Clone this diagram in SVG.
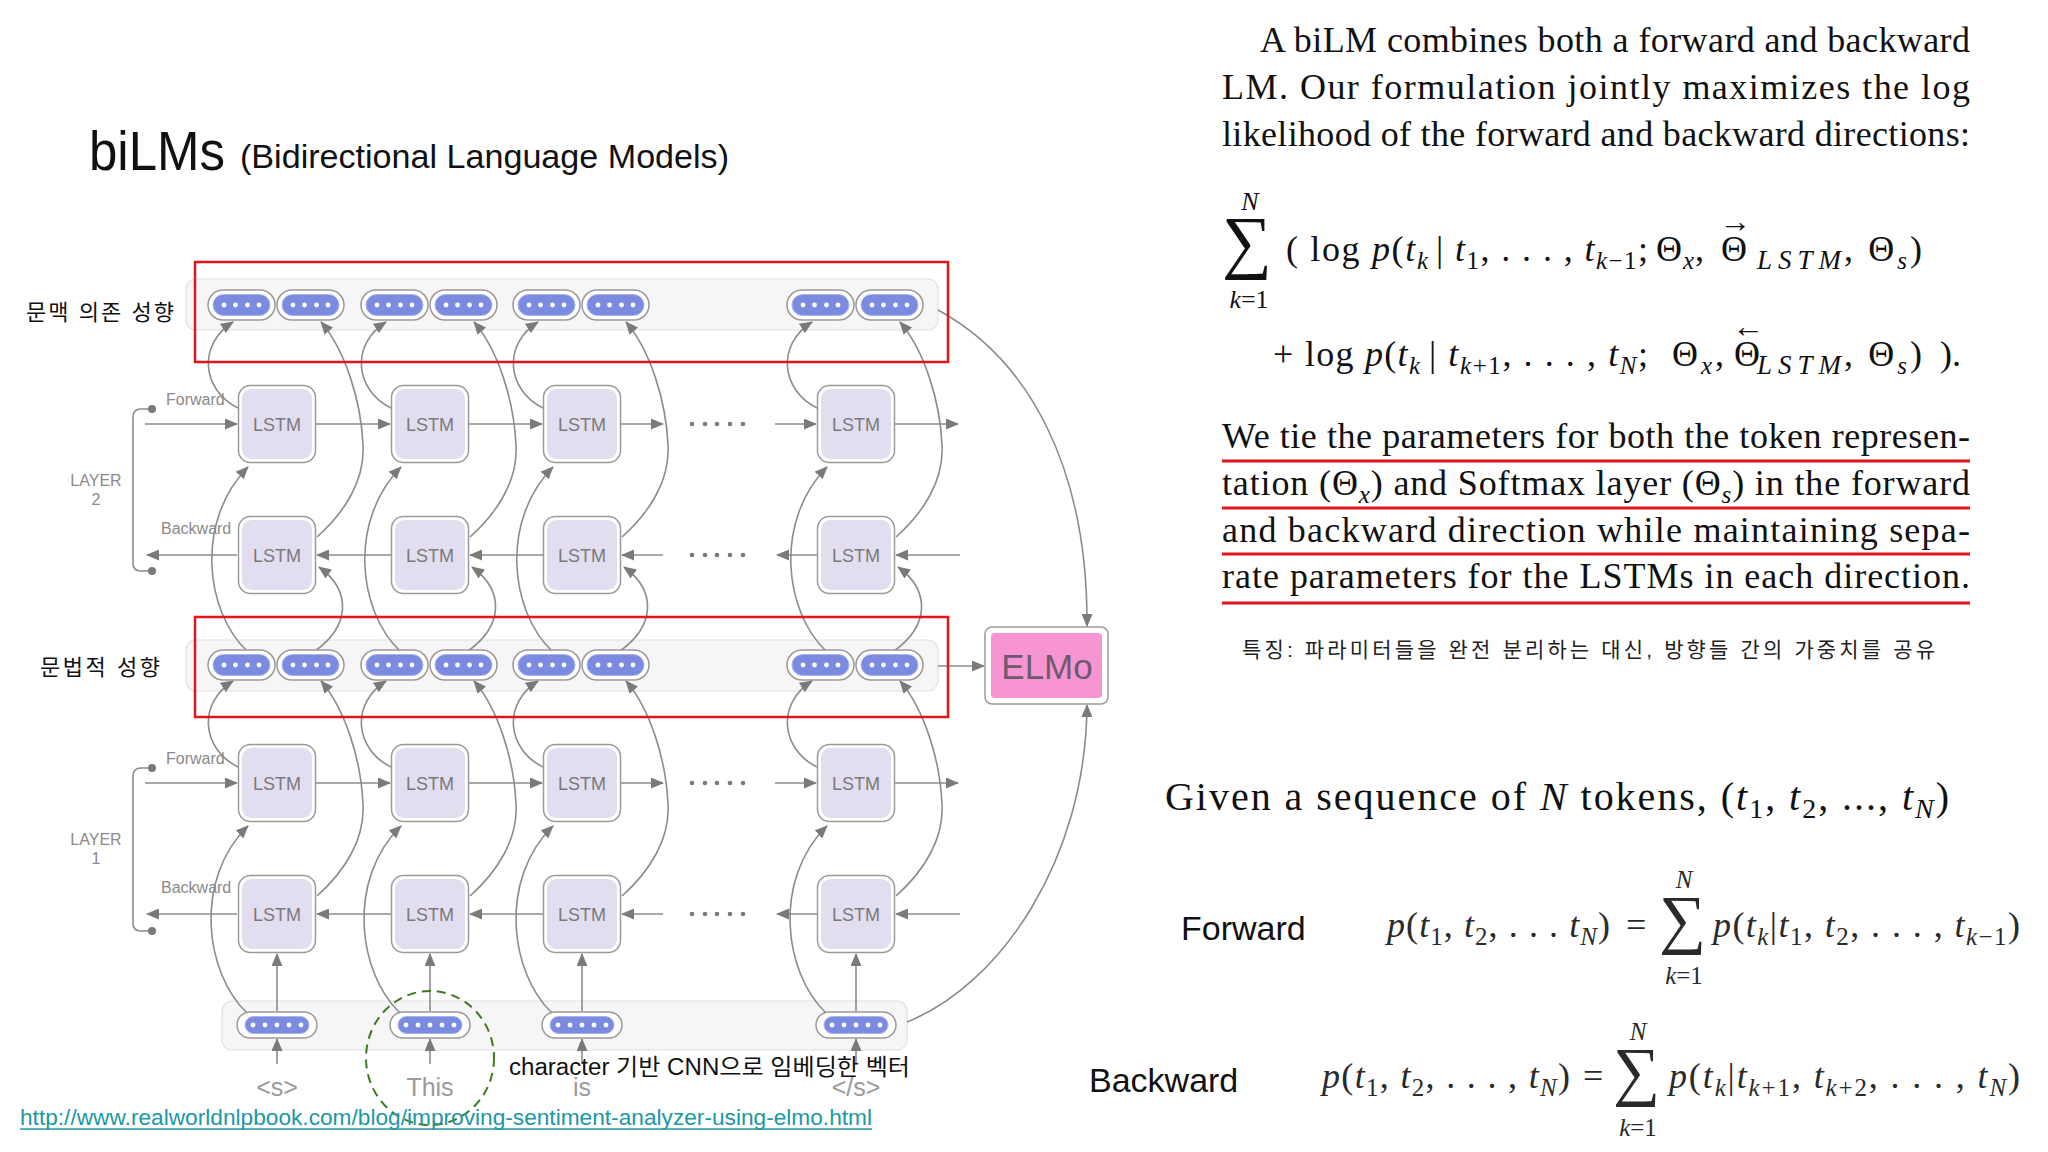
<svg xmlns="http://www.w3.org/2000/svg" width="2048" height="1152" viewBox="0 0 2048 1152">
<style>
.sans{font-family:"Liberation Sans",Arial,"Noto Sans CJK KR",sans-serif}
.kr{font-family:"Liberation Sans","Noto Sans CJK KR",sans-serif}
.serif{font-family:"Liberation Serif","Times New Roman","DejaVu Serif",serif;fill:#111}
.math{font-family:"Liberation Serif","Times New Roman","DejaVu Serif",serif;fill:#2a2a2a}
.it{font-style:italic}
.sb{font-size:25px}
.lbl{fill:#8a8a8a;font-size:16px}
.lstmt{fill:#7a7a7a;font-size:18px;text-anchor:middle}
.con{fill:none;stroke:#8c8c8c;stroke-width:1.6}
.arr{marker-end:url(#ah)}
.redbox{fill:none;stroke:#e3141b;stroke-width:2.5}
.band{fill:#f6f6f6;stroke:#e0e0e0;stroke-width:1.2}
.tok{fill:#9a9a9a;font-size:25px;text-anchor:middle}
.uline{stroke:#e3141b;stroke-width:3}
.dot{fill:#7a7a7a}
</style>
<defs>
<marker id="ah" markerWidth="13" markerHeight="11" refX="12" refY="5.5" orient="auto" markerUnits="userSpaceOnUse"><path d="M0,0 L13,5.5 L0,11 z" fill="#7a7a7a"/></marker>
<g id="lstmbox"><rect x="-38.5" y="-38.5" width="77" height="77" rx="12" fill="#fff" stroke="#9a9a9a" stroke-width="1.5"/><rect x="-35" y="-35" width="70" height="70" rx="9.5" fill="#e3deef"/></g>
<g id="pill4"><rect x="-33.5" y="-15" width="67" height="30" rx="15" fill="#fff" stroke="#9a9a9a" stroke-width="1.5"/><rect x="-28.5" y="-10.5" width="57" height="21" rx="10.5" fill="#7b8ce0" stroke="#a9b4ee" stroke-width="1"/><circle cx="-17.5" cy="0" r="2.4" fill="#fff"/><circle cx="-6" cy="0" r="2.4" fill="#fff"/><circle cx="6" cy="0" r="2.4" fill="#fff"/><circle cx="17.5" cy="0" r="2.4" fill="#fff"/></g>
<g id="pill5"><rect x="-40" y="-13" width="80" height="26" rx="13" fill="#fff" stroke="#9a9a9a" stroke-width="1.5"/><rect x="-32" y="-8.5" width="64" height="17" rx="8.5" fill="#7b8ce0" stroke="#a9b4ee" stroke-width="1"/><circle cx="-24" cy="0" r="2.4" fill="#fff"/><circle cx="-12" cy="0" r="2.4" fill="#fff"/><circle cx="0" cy="0" r="2.4" fill="#fff"/><circle cx="12" cy="0" r="2.4" fill="#fff"/><circle cx="24" cy="0" r="2.4" fill="#fff"/></g>
</defs>
<rect width="2048" height="1152" fill="#fff"/>

<g id="title">
<text class="sans" x="89" y="170" font-size="56" fill="#111" textLength="136" lengthAdjust="spacingAndGlyphs">biLMs</text>
<text class="sans" x="240" y="168" font-size="33" fill="#111" textLength="489" lengthAdjust="spacingAndGlyphs">(Bidirectional Language Models)</text>
</g>

<g id="band-top"><rect class="band" x="186" y="279" width="752" height="51" rx="10"/></g>
<g id="band-mid"><rect class="band" x="186" y="640" width="752" height="51" rx="10"/></g>
<g id="band-bottom"><rect class="band" x="222" y="1001" width="685" height="49" rx="10"/></g>

<g id="labels-left">
<text class="kr" x="26" y="320" font-size="22" fill="#111" textLength="148" lengthAdjust="spacing">문맥 의존 성향</text>
<text class="kr" x="40" y="675" font-size="22" fill="#111" textLength="120" lengthAdjust="spacing">문법적 성향</text>
<text class="sans lbl" x="96" y="486" text-anchor="middle">LAYER</text>
<text class="sans lbl" x="96" y="505" text-anchor="middle">2</text>
<text class="sans lbl" x="96" y="845" text-anchor="middle">LAYER</text>
<text class="sans lbl" x="96" y="864" text-anchor="middle">1</text>
<text class="sans lbl" x="166" y="405">Forward</text>
<text class="sans lbl" x="161" y="534">Backward</text>
<text class="sans lbl" x="166" y="764">Forward</text>
<text class="sans lbl" x="161" y="893">Backward</text>
</g>

<g id="connectors">
<path class="con" d="M151,409 H141 Q133,409 133,417 V563 Q133,571 141,571 H151"/>
<circle class="dot" cx="152" cy="409" r="4"/><circle class="dot" cx="152" cy="571" r="4"/>
<path class="con" d="M151,768 H141 Q133,768 133,776 V923 Q133,931 141,931 H151"/>
<circle class="dot" cx="152" cy="768" r="4"/><circle class="dot" cx="152" cy="931" r="4"/>
<path class="con arr" d="M145,424 H237"/>
<path class="con arr" d="M316,424 H390"/>
<path class="con arr" d="M469,424 H542"/>
<path class="con arr" d="M621,424 H663"/>
<path class="con arr" d="M775,424 H816"/>
<path class="con arr" d="M895,424 H958"/>
<path class="con arr" d="M237,555 H147"/>
<path class="con arr" d="M391,555 H317"/>
<path class="con arr" d="M543,555 H470"/>
<path class="con arr" d="M663,555 H622"/>
<path class="con arr" d="M817,555 H777"/>
<path class="con arr" d="M960,555 H896"/>
<path class="con arr" d="M145,783 H237"/>
<path class="con arr" d="M316,783 H390"/>
<path class="con arr" d="M469,783 H542"/>
<path class="con arr" d="M621,783 H663"/>
<path class="con arr" d="M775,783 H816"/>
<path class="con arr" d="M895,783 H958"/>
<path class="con arr" d="M237,914 H147"/>
<path class="con arr" d="M391,914 H317"/>
<path class="con arr" d="M543,914 H470"/>
<path class="con arr" d="M663,914 H622"/>
<path class="con arr" d="M817,914 H777"/>
<path class="con arr" d="M960,914 H896"/>
<g class="dot">
<circle cx="692" cy="424" r="2.3"/><circle cx="705" cy="424" r="2.3"/><circle cx="717" cy="424" r="2.3"/><circle cx="730" cy="424" r="2.3"/><circle cx="743" cy="424" r="2.3"/>
<circle cx="692" cy="555" r="2.3"/><circle cx="705" cy="555" r="2.3"/><circle cx="717" cy="555" r="2.3"/><circle cx="730" cy="555" r="2.3"/><circle cx="743" cy="555" r="2.3"/>
<circle cx="692" cy="783" r="2.3"/><circle cx="705" cy="783" r="2.3"/><circle cx="717" cy="783" r="2.3"/><circle cx="730" cy="783" r="2.3"/><circle cx="743" cy="783" r="2.3"/>
<circle cx="692" cy="914" r="2.3"/><circle cx="705" cy="914" r="2.3"/><circle cx="717" cy="914" r="2.3"/><circle cx="730" cy="914" r="2.3"/><circle cx="743" cy="914" r="2.3"/>
</g>
<path class="con arr" d="M238,408 C202,390 197,345 233,322"/>
<path class="con arr" d="M391,408 C355,390 350,345 386,322"/>
<path class="con arr" d="M543,408 C507,390 502,345 538,322"/>
<path class="con arr" d="M817,408 C781,390 776,345 812,322"/>
<path class="con arr" d="M317,537 C345,512 365,480 363,445 C361,400 345,350 321,322"/>
<path class="con arr" d="M470,537 C498,512 518,480 516,445 C514,400 498,350 474,322"/>
<path class="con arr" d="M622,537 C650,512 670,480 668,445 C666,400 650,350 626,322"/>
<path class="con arr" d="M896,537 C924,512 944,480 942,445 C940,400 924,350 900,322"/>
<path class="con arr" d="M247,651 C205,611 195,521 248,467"/>
<path class="con arr" d="M400,651 C358,611 348,521 401,467"/>
<path class="con arr" d="M552,651 C510,611 500,521 553,467"/>
<path class="con arr" d="M826,651 C784,611 774,521 827,467"/>
<path class="con arr" d="M315,651 C350,626 352,591 319,567"/>
<path class="con arr" d="M468,651 C503,626 505,591 472,567"/>
<path class="con arr" d="M620,651 C655,626 657,591 624,567"/>
<path class="con arr" d="M894,651 C929,626 931,591 898,567"/>
<path class="con arr" d="M238,767 C202,749 197,704 233,681"/>
<path class="con arr" d="M391,767 C355,749 350,704 386,681"/>
<path class="con arr" d="M543,767 C507,749 502,704 538,681"/>
<path class="con arr" d="M817,767 C781,749 776,704 812,681"/>
<path class="con arr" d="M317,896 C345,871 365,839 363,804 C361,759 345,709 321,681"/>
<path class="con arr" d="M470,896 C498,871 518,839 516,804 C514,759 498,709 474,681"/>
<path class="con arr" d="M622,896 C650,871 670,839 668,804 C666,759 650,709 626,681"/>
<path class="con arr" d="M896,896 C924,871 944,839 942,804 C940,759 924,709 900,681"/>
<path class="con arr" d="M247,1013 C205,973 193,880 248,826"/>
<path class="con arr" d="M400,1013 C358,973 346,880 401,826"/>
<path class="con arr" d="M552,1013 C510,973 498,880 553,826"/>
<path class="con arr" d="M826,1013 C784,973 772,880 827,826"/>
<path class="con arr" d="M277,1011 V954"/>
<path class="con arr" d="M430,1011 V954"/>
<path class="con arr" d="M582,1011 V954"/>
<path class="con arr" d="M856,1011 V954"/>
<path class="con arr" d="M277,1064 V1039"/>
<path class="con arr" d="M430,1064 V1039"/>
<path class="con arr" d="M582,1064 V1039"/>
<path class="con arr" d="M856,1064 V1039"/>
<path class="con arr" d="M938,310 C1030,360 1088,470 1087,626"/>
<path class="con arr" d="M938,666 H984"/>
<path class="con arr" d="M907,1022 C1000,985 1086,860 1087,705"/>
</g>

<g id="top-pills">
<g id="tp1a"><use href="#pill4" x="241.5" y="305"/></g><g id="tp1b"><use href="#pill4" x="310.5" y="305"/></g>
<g id="tp2a"><use href="#pill4" x="394.5" y="305"/></g><g id="tp2b"><use href="#pill4" x="463.5" y="305"/></g>
<g id="tp3a"><use href="#pill4" x="546.5" y="305"/></g><g id="tp3b"><use href="#pill4" x="615.5" y="305"/></g>
<g id="tp4a"><use href="#pill4" x="820.5" y="305"/></g><g id="tp4b"><use href="#pill4" x="889.5" y="305"/></g>
</g>
<g id="mid-pills">
<g id="mp1a"><use href="#pill4" x="241.5" y="665"/></g><g id="mp1b"><use href="#pill4" x="310.5" y="665"/></g>
<g id="mp2a"><use href="#pill4" x="394.5" y="665"/></g><g id="mp2b"><use href="#pill4" x="463.5" y="665"/></g>
<g id="mp3a"><use href="#pill4" x="546.5" y="665"/></g><g id="mp3b"><use href="#pill4" x="615.5" y="665"/></g>
<g id="mp4a"><use href="#pill4" x="820.5" y="665"/></g><g id="mp4b"><use href="#pill4" x="889.5" y="665"/></g>
</g>
<g id="bottom-pills">
<g id="bp1"><use href="#pill5" x="277" y="1025"/></g>
<g id="bp2"><use href="#pill5" x="430" y="1025"/></g>
<g id="bp3"><use href="#pill5" x="582" y="1025"/></g>
<g id="bp4"><use href="#pill5" x="856" y="1025"/></g>
</g>

<g id="l2f1"><use href="#lstmbox" x="277" y="424"/><text class="sans lstmt" x="277" y="431">LSTM</text></g>
<g id="l2f2"><use href="#lstmbox" x="430" y="424"/><text class="sans lstmt" x="430" y="431">LSTM</text></g>
<g id="l2f3"><use href="#lstmbox" x="582" y="424"/><text class="sans lstmt" x="582" y="431">LSTM</text></g>
<g id="l2f4"><use href="#lstmbox" x="856" y="424"/><text class="sans lstmt" x="856" y="431">LSTM</text></g>
<g id="l2b1"><use href="#lstmbox" x="277" y="555"/><text class="sans lstmt" x="277" y="562">LSTM</text></g>
<g id="l2b2"><use href="#lstmbox" x="430" y="555"/><text class="sans lstmt" x="430" y="562">LSTM</text></g>
<g id="l2b3"><use href="#lstmbox" x="582" y="555"/><text class="sans lstmt" x="582" y="562">LSTM</text></g>
<g id="l2b4"><use href="#lstmbox" x="856" y="555"/><text class="sans lstmt" x="856" y="562">LSTM</text></g>
<g id="l1f1"><use href="#lstmbox" x="277" y="783"/><text class="sans lstmt" x="277" y="790">LSTM</text></g>
<g id="l1f2"><use href="#lstmbox" x="430" y="783"/><text class="sans lstmt" x="430" y="790">LSTM</text></g>
<g id="l1f3"><use href="#lstmbox" x="582" y="783"/><text class="sans lstmt" x="582" y="790">LSTM</text></g>
<g id="l1f4"><use href="#lstmbox" x="856" y="783"/><text class="sans lstmt" x="856" y="790">LSTM</text></g>
<g id="l1b1"><use href="#lstmbox" x="277" y="914"/><text class="sans lstmt" x="277" y="921">LSTM</text></g>
<g id="l1b2"><use href="#lstmbox" x="430" y="914"/><text class="sans lstmt" x="430" y="921">LSTM</text></g>
<g id="l1b3"><use href="#lstmbox" x="582" y="914"/><text class="sans lstmt" x="582" y="921">LSTM</text></g>
<g id="l1b4"><use href="#lstmbox" x="856" y="914"/><text class="sans lstmt" x="856" y="921">LSTM</text></g>

<g id="red-boxes">
<rect class="redbox" x="195" y="262" width="753" height="100"/>
<rect class="redbox" x="195" y="617" width="753" height="100"/>
</g>

<g id="elmo">
<rect x="985" y="627" width="123" height="77" rx="7" fill="#fff" stroke="#9a9a9a" stroke-width="1.5"/>
<rect x="991" y="633" width="111" height="65" rx="4" fill="#f794d2"/>
<text class="sans" x="1047" y="679" font-size="35" fill="#6e5a70" text-anchor="middle">ELMo</text>
</g>

<g id="tokens">
<text class="sans tok" x="277" y="1096">&lt;s&gt;</text>
<text class="sans tok" x="430" y="1096">This</text>
<text class="sans tok" x="582" y="1096">is</text>
<text class="sans tok" x="856" y="1096">&lt;/s&gt;</text>
</g>
<g id="highlight"><ellipse cx="430" cy="1058" rx="64" ry="67" fill="none" stroke="#3d7a1e" stroke-width="2" stroke-dasharray="9 6"/></g>
<g id="cnn-note"><text class="kr" x="509" y="1075" font-size="23" fill="#111" textLength="401" lengthAdjust="spacingAndGlyphs">character 기반 CNN으로 임베딩한 벡터</text></g>
<g id="url">
<text class="sans" x="20" y="1125" font-size="22" fill="#1c98a3" textLength="852" lengthAdjust="spacingAndGlyphs">http://www.realworldnlpbook.com/blog/improving-sentiment-analyzer-using-elmo.html</text>
<line x1="20" y1="1129" x2="872" y2="1129" stroke="#1c98a3" stroke-width="1.5"/>
</g>

<g id="para1" class="serif" font-size="36">
<text x="1260" y="52" textLength="710" lengthAdjust="spacing">A biLM combines both a forward and backward</text>
<text x="1222" y="99" textLength="748" lengthAdjust="spacing">LM. Our formulation jointly maximizes the log</text>
<text x="1222" y="146" textLength="748" lengthAdjust="spacing">likelihood of the forward and backward directions:</text>
</g>

<g id="eq1" class="serif" font-size="36">
<text x="1222" y="265" font-size="70">∑</text>
<text x="1250" y="210" font-size="26" text-anchor="middle" class="it">N</text>
<text x="1249" y="308" font-size="26" text-anchor="middle"><tspan class="it">k</tspan>=1</text>
<text x="1286" y="261" textLength="142" lengthAdjust="spacing">( log <tspan class="it">p</tspan>(<tspan class="it">t</tspan><tspan class="it sb" dy="8">k</tspan></text>
<text x="1436" y="261" textLength="212" lengthAdjust="spacing">| <tspan class="it">t</tspan><tspan class="sb" dy="8">1</tspan><tspan dy="-8">, . . . , </tspan><tspan class="it">t</tspan><tspan class="sb" dy="8"><tspan class="it">k</tspan>−1</tspan><tspan dy="-8">;</tspan></text>
<text x="1656" y="261" textLength="48" lengthAdjust="spacing">Θ<tspan class="it sb" dy="8">x</tspan><tspan dy="-8">,</tspan></text>
<text x="1721" y="261">Θ</text>
<text x="1735" y="232" font-size="32" text-anchor="middle">→</text>
<text x="1757" y="269" font-size="27" class="it" textLength="84" lengthAdjust="spacing">LSTM</text>
<text x="1844" y="261" textLength="78" lengthAdjust="spacing">, Θ<tspan class="it sb" dy="8">s</tspan><tspan dy="-8">)</tspan></text>
<text x="1273" y="366" textLength="147" lengthAdjust="spacing">+ log <tspan class="it">p</tspan>(<tspan class="it">t</tspan><tspan class="it sb" dy="8">k</tspan></text>
<text x="1429" y="366" textLength="219" lengthAdjust="spacing">| <tspan class="it">t</tspan><tspan class="sb" dy="8"><tspan class="it">k</tspan>+1</tspan><tspan dy="-8">, . . . , </tspan><tspan class="it">t</tspan><tspan class="it sb" dy="8">N</tspan><tspan dy="-8">;</tspan></text>
<text x="1672" y="366" textLength="52" lengthAdjust="spacing">Θ<tspan class="it sb" dy="8">x</tspan><tspan dy="-8">,</tspan></text>
<text x="1734" y="366">Θ</text>
<text x="1748" y="337" font-size="32" text-anchor="middle">←</text>
<text x="1757" y="374" font-size="27" class="it" textLength="84" lengthAdjust="spacing">LSTM</text>
<text x="1844" y="366" textLength="78" lengthAdjust="spacing">, Θ<tspan class="it sb" dy="8">s</tspan><tspan dy="-8">)</tspan></text>
<text x="1940" y="366">).</text>
</g>

<g id="para2" class="serif" font-size="36">
<text x="1222" y="448" textLength="748" lengthAdjust="spacing">We tie the parameters for both the token represen-</text>
<text x="1222" y="495" textLength="748" lengthAdjust="spacing">tation (Θ<tspan class="it sb" dy="8">x</tspan><tspan dy="-8">) and Softmax layer (Θ</tspan><tspan class="it sb" dy="8">s</tspan><tspan dy="-8">) in the forward</tspan></text>
<text x="1222" y="542" textLength="748" lengthAdjust="spacing">and backward direction while maintaining sepa-</text>
<text x="1222" y="588" textLength="748" lengthAdjust="spacing">rate parameters for the LSTMs in each direction.</text>
<line class="uline" x1="1222" y1="461" x2="1970" y2="461"/>
<line class="uline" x1="1222" y1="508" x2="1970" y2="508"/>
<line class="uline" x1="1222" y1="554" x2="1970" y2="554"/>
<line class="uline" x1="1222" y1="603" x2="1970" y2="603"/>
</g>

<g id="note-kr"><text class="kr" x="1242" y="657" font-size="21" fill="#222" textLength="693" lengthAdjust="spacing">특징: 파라미터들을 완전 분리하는 대신, 방향들 간의 가중치를 공유</text></g>

<g id="given" class="serif" font-size="40">
<text x="1165" y="810" textLength="784" lengthAdjust="spacing">Given a sequence of <tspan class="it">N</tspan> tokens, (<tspan class="it">t</tspan><tspan font-size="28" dy="8">1</tspan><tspan dy="-8">, </tspan><tspan class="it">t</tspan><tspan font-size="28" dy="8">2</tspan><tspan dy="-8">, ..., </tspan><tspan class="it">t</tspan><tspan class="it" font-size="28" dy="8">N</tspan><tspan dy="-8">)</tspan></text>
</g>

<g id="forward-eq">
<text class="sans" x="1181" y="940" font-size="34" fill="#111">Forward</text>
<text class="math" x="1387" y="937" font-size="36" textLength="223" lengthAdjust="spacing"><tspan class="it">p</tspan>(<tspan class="it">t</tspan><tspan class="sb" dy="8">1</tspan><tspan dy="-8">, </tspan><tspan class="it">t</tspan><tspan class="sb" dy="8">2</tspan><tspan dy="-8">, . . . </tspan><tspan class="it">t</tspan><tspan class="it sb" dy="8">N</tspan><tspan dy="-8">)</tspan></text>
<text class="math" x="1626" y="937" font-size="36">=</text>
<text class="math" x="1659" y="941" font-size="66">∑</text>
<text class="math it" x="1684" y="888" font-size="25" text-anchor="middle">N</text>
<text class="math" x="1684" y="984" font-size="25" text-anchor="middle"><tspan class="it">k</tspan>=1</text>
<text class="math" x="1713" y="937" font-size="36" textLength="307" lengthAdjust="spacing"><tspan class="it">p</tspan>(<tspan class="it">t</tspan><tspan class="it sb" dy="8">k</tspan><tspan dy="-8">|</tspan><tspan class="it">t</tspan><tspan class="sb" dy="8">1</tspan><tspan dy="-8">, </tspan><tspan class="it">t</tspan><tspan class="sb" dy="8">2</tspan><tspan dy="-8">, . . . , </tspan><tspan class="it">t</tspan><tspan class="sb" dy="8"><tspan class="it">k</tspan>−1</tspan><tspan dy="-8">)</tspan></text>
</g>

<g id="backward-eq">
<text class="sans" x="1089" y="1092" font-size="34" fill="#111">Backward</text>
<text class="math" x="1322" y="1088" font-size="36" textLength="248" lengthAdjust="spacing"><tspan class="it">p</tspan>(<tspan class="it">t</tspan><tspan class="sb" dy="8">1</tspan><tspan dy="-8">, </tspan><tspan class="it">t</tspan><tspan class="sb" dy="8">2</tspan><tspan dy="-8">, . . . , </tspan><tspan class="it">t</tspan><tspan class="it sb" dy="8">N</tspan><tspan dy="-8">)</tspan></text>
<text class="math" x="1583" y="1088" font-size="36">=</text>
<text class="math" x="1613" y="1093" font-size="66">∑</text>
<text class="math it" x="1638" y="1040" font-size="25" text-anchor="middle">N</text>
<text class="math" x="1638" y="1136" font-size="25" text-anchor="middle"><tspan class="it">k</tspan>=1</text>
<text class="math" x="1669" y="1088" font-size="36" textLength="351" lengthAdjust="spacing"><tspan class="it">p</tspan>(<tspan class="it">t</tspan><tspan class="it sb" dy="8">k</tspan><tspan dy="-8">|</tspan><tspan class="it">t</tspan><tspan class="sb" dy="8"><tspan class="it">k</tspan>+1</tspan><tspan dy="-8">, </tspan><tspan class="it">t</tspan><tspan class="sb" dy="8"><tspan class="it">k</tspan>+2</tspan><tspan dy="-8">, . . . , </tspan><tspan class="it">t</tspan><tspan class="it sb" dy="8">N</tspan><tspan dy="-8">)</tspan></text>
</g>
</svg>
